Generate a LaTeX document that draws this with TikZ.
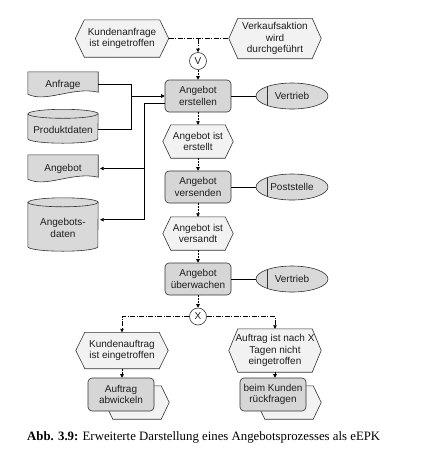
\documentclass[tikz,border=0pt]{standalone}
\usepackage{fontspec}
\setmainfont{Liberation Serif}
\newfontfamily\diasans{Liberation Sans}
\usetikzlibrary{shapes.geometric,arrows.meta,calc,backgrounds}
\definecolor{bd}{HTML}{333333}
\definecolor{fnfill}{HTML}{D6D6D6}
\definecolor{evfill}{HTML}{F2F2F2}
\definecolor{orgfill}{HTML}{D9D9D9}
\definecolor{txt}{HTML}{1E1E1E}
\newcommand\hexbg[2]{%
  \begin{pgfonlayer}{background}
  \filldraw[evshape] (#1.west) -- ([xshift=#2]#1.north west) -- ([xshift=-#2]#1.north east) -- (#1.east) -- ([xshift=-#2]#1.south east) -- ([xshift=#2]#1.south west) -- cycle;
  \end{pgfonlayer}}
\newcommand\docbg[1]{%
  \begin{pgfonlayer}{background}
  \filldraw[datshape] (#1.north west) -- (#1.north east) -- ($(#1.south east)+(0,-5)$) .. controls ($(#1.south east)+(-25,-11)$) and ($(#1.south west)+(18,6)$) .. ($(#1.south west)+(0,-3)$) -- cycle;
  \end{pgfonlayer}}
\newcommand\cylbg[1]{%
  \begin{pgfonlayer}{background}
  \filldraw[datshape] ($(#1.north west)+(0,-2)$) -- ($(#1.south west)+(0,-4.5)$) arc[start angle=180, end angle=360, x radius=35pt, y radius=4.5pt] -- ($(#1.north east)+(0,-2)$) arc[start angle=0, end angle=180, x radius=35pt, y radius=4.5pt] -- cycle;
  \draw[datshape, fill=none] ($(#1.north west)+(0,-2)$) arc[start angle=180, end angle=360, x radius=35pt, y radius=4.5pt];
  \end{pgfonlayer}}
\begin{document}
\begin{tikzpicture}[x=1pt, y=-1pt,
  font=\diasans\fontsize{10}{11.5}\selectfont,
  fn/.style={rectangle, rounded corners=4pt, draw=bd, line width=0.6pt, fill=fnfill, minimum width=66pt, minimum height=32pt, inner sep=0pt, align=center, text=txt},
  evt/.style={rectangle, inner sep=0pt, align=center, text=txt},
  evshape/.style={draw=bd, line width=0.6pt, fill=evfill},
  datshape/.style={draw=bd, line width=0.6pt, fill=orgfill},
  dtext/.style={rectangle, inner sep=0pt, minimum width=70pt, align=center, text=txt},
  org/.style={ellipse, draw=bd, line width=0.6pt, fill=orgfill, minimum width=72pt, minimum height=26pt, inner sep=0pt, text=txt,
    path picture={\draw[bd, line width=0.6pt] ([xshift=11pt]path picture bounding box.north west) -- ([xshift=11pt]path picture bounding box.south west);}},
  gate/.style={circle, draw=bd, line width=0.6pt, fill=white, minimum size=17pt, inner sep=0pt, text=txt},
  cf/.style={draw=black, line width=0.6pt, dash pattern=on 2pt off 1pt, -{Triangle[length=3.5pt,width=3.5pt]}},
  ddl/.style={draw=black, line width=0.6pt, dash pattern=on 5pt off 1.5pt on 1pt off 1.5pt},
  ddarr/.style={ddl, -{Triangle[length=3.5pt,width=3.5pt]}},
  link/.style={draw=black, line width=0.6pt},
  io/.style={link, -{Triangle[length=3.5pt,width=3.5pt]}}
]
\useasboundingbox (0,0) rectangle (431,459);
\begin{pgfonlayer}{background}
\fill[white] (0,0) rectangle (431,459);
\end{pgfonlayer}

% events top
\node[evt, minimum width=93pt, minimum height=37pt] (E1) at (122,38.5) {Kundenanfrage\\ist eingetroffen};
\hexbg{E1}{9pt}
\node[evt, minimum width=92pt, minimum height=40pt] (E2) at (275,38.5) {Verkaufsaktion\\wird\\durchgeführt};
\hexbg{E2}{9pt}
\node[gate] (V) at (198,61) {V};

% main column
\node[fn] (F1) at (198,96) {Angebot\\erstellen};
\node[org] (O1) at (292,96) {Vertrieb};
\node[evt, minimum width=70pt, minimum height=33pt] (E3) at (198,141.5) {Angebot ist\\erstellt};
\hexbg{E3}{8pt}
\node[fn] (F2) at (198,187) {Angebot\\versenden};
\node[org] (O2) at (292,187) {Poststelle};
\node[evt, minimum width=70pt, minimum height=33pt] (E4) at (198,233.5) {Angebot ist\\versandt};
\hexbg{E4}{8pt}
\node[fn] (F3) at (198,279) {Angebot\\überwachen};
\node[org] (O3) at (292,279) {Vertrieb};
\node[gate] (X) at (198,316.5) {X};

% bottom events
\node[evt, minimum width=92pt, minimum height=36pt] (E5) at (122,350.5) {Kundenauftrag\\ist eingetroffen};
\hexbg{E5}{9pt}
\node[evt, minimum width=92pt, minimum height=43pt] (E6) at (275,350.5) {Auftrag ist nach X\\Tagen nicht\\eingetroffen};
\hexbg{E6}{9pt}

% process interfaces
\node[evt, minimum width=64pt, minimum height=33pt] (P1b) at (137,402.5) {};
\hexbg{P1b}{8pt}
\node[fn, minimum height=33pt] (P1) at (121,394.5) {Auftrag\\abwickeln};
\node[evt, minimum width=64pt, minimum height=33pt] (P2b) at (289,402.5) {};
\hexbg{P2b}{8pt}
\node[fn, minimum height=33pt] (P2) at (273,394.5) {beim Kunden\\rückfragen};

% data objects
\node[dtext, minimum height=25pt] (anfrage) at (63,84.5) {Anfrage};
\docbg{anfrage}
\node[dtext, minimum height=27pt] (prod) at (63,129.5) {Produktdaten};
\cylbg{prod}
\node[dtext, minimum height=27pt] (angebot) at (63,168.5) {Angebot};
\docbg{angebot}
\node[dtext, minimum height=46.5pt] (adat) at (63,227.75) {Angebots-\\daten};
\cylbg{adat}

% control flow
\coordinate (j1) at (V |- E1.east);
\draw[ddl] (E1.east) -- (E2.west);
\draw[ddarr] (j1) -- (V);
\draw[cf] (V) -- (F1);
\draw[cf] (F1) -- (E3);
\draw[cf] (E3) -- (F2);
\draw[cf] (F2) -- (E4);
\draw[cf] (E4) -- (F3);
\draw[cf] (F3) -- (X);
\draw[ddarr] (X) -| (E5);
\draw[ddarr] (X) -| (E6);
\draw[cf] (E5.south) -- (E5.south |- P1.north);
\draw[cf] (E6.south) -- (E6.south |- P2.north);

% organisation
\draw[link] (F1) -- (O1);
\draw[link] (F2) -- (O2);
\draw[link] (F3) -- (O3);

% data flow
\coordinate (inbus) at ($(F1.west)+(-33,0)$);
\draw[io] (anfrage.east) -| (inbus) -- (F1.west);
\draw[link] (prod.east) -| (inbus);
\coordinate (outbus) at ($(F1.west)+(-20,7)$);
\draw[link] ($(F1.west)+(0,7)$) -- (outbus);
\draw[io, shorten >=2pt] (outbus) |- (angebot.east);
\draw[io, shorten >=2pt] (outbus) |- ($(adat.east)+(0,-8)$);

% caption
\node[anchor=base west, inner sep=0pt, font=\rmfamily\fontsize{12.8}{15}\selectfont, text=black] (cap) at (27,440) {\textbf{Abb. 3.9:} Erweiterte Darstellung eines Angebotsprozesses als eEPK};
\end{tikzpicture}
\end{document}
